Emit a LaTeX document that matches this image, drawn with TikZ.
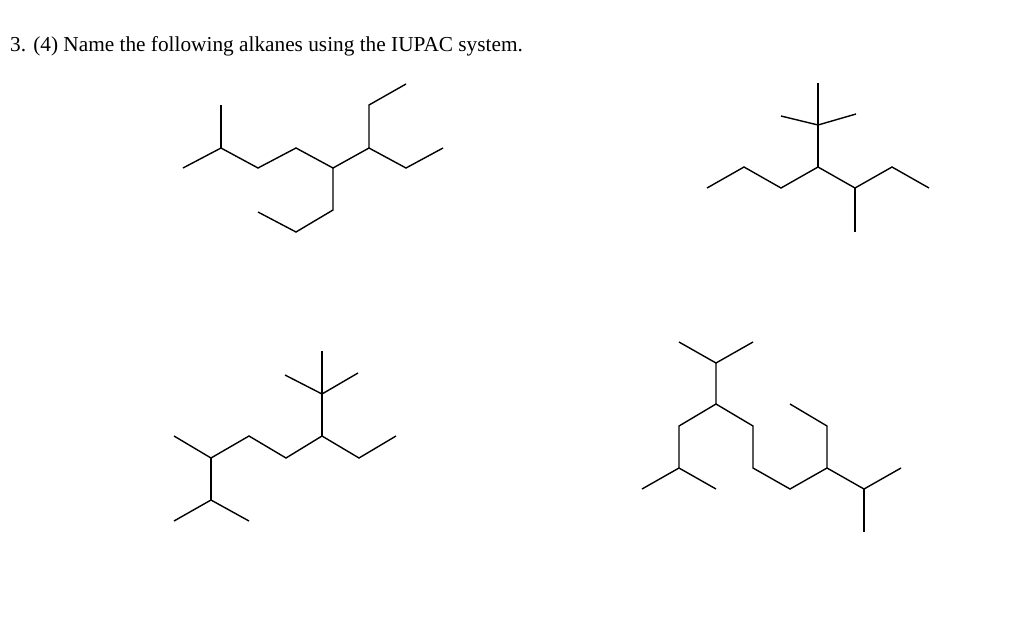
\documentclass[tikz,border=0pt]{standalone}
\usepackage{fontspec}
\setmainfont{Liberation Serif}
\begin{document}
\begin{tikzpicture}[x=1pt,y=-1pt,bond/.style={line width=1.4pt,line join=miter}]
\useasboundingbox (0,0) rectangle (1024,619);
\node[anchor=base west,inner sep=0,font=\fontsize{21.3}{24}\selectfont] (title) at (10,51) {3. (4) Name the following alkanes using the IUPAC system.};
% molecule 1
\draw[bond] (183,168)--(221,148)--(258,168)--(296,148)--(333,168)--(369,148)--(406,168)--(443,148);
\draw[bond] (221,148)--(221,105);
\draw[bond] (333,168)--(333,210)--(296,232)--(258,212);
\draw[bond] (369,148)--(369,105)--(406,84);
% molecule 2
\draw[bond] (707,188)--(744,167)--(781,188)--(818,167)--(855,188)--(892,167)--(929,188);
\draw[bond] (818,167)--(818,83);
\draw[bond] (781,116)--(818,125)--(856,114);
\draw[bond] (855,188)--(855,232);
% molecule 3
\draw[bond] (174,436)--(211,458)--(249,436)--(286,458)--(322,436)--(359,458)--(396,436);
\draw[bond] (211,458)--(211,500);
\draw[bond] (174,521)--(211,500)--(249,521);
\draw[bond] (322,436)--(322,351);
\draw[bond] (285,375)--(322,394)--(358,373);
% molecule 4
\draw[bond] (679,342)--(716,363)--(753,342);
\draw[bond] (716,363)--(716,404)--(679,426)--(679,468)--(642,489);
\draw[bond] (679,468)--(716,489);
\draw[bond] (716,404)--(753,426)--(753,468)--(790,489)--(827,468)--(827,426)--(790,404);
\draw[bond] (827,468)--(864,489)--(901,468);
\draw[bond] (864,489)--(864,532);
\end{tikzpicture}
\end{document}
